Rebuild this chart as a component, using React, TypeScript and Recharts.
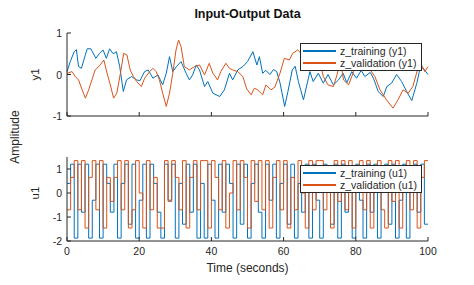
import { LineChart, Line, XAxis, YAxis, Legend } from "recharts";

// y1 output traces (time in seconds, amplitude)
const trainY1Time = [
  0, 0.9, 2.0, 2.6, 3.2, 4.0, 5.0, 5.6, 6.6, 8.0, 9.0, 10.0, 10.9, 11.8, 12.8, 13.7, 14.6, 15.6, 16.5, 17.9,
  19.3, 20.2, 21.5, 22.5, 23.8, 25.2, 26.5, 27.5, 28.4, 29.3, 30.3, 31.6, 33.0, 33.9, 34.8, 35.8, 36.7, 38.1,
  39.0, 40.4, 42.3, 43.6, 45.0, 45.9, 47.3, 48.7, 50.0, 51.5, 52.6, 53.3, 54.2, 55.1, 56.2, 57.2, 58.1, 59.0,
  60.3, 61.2, 62.4, 63.2, 64.1, 65.5, 67.3, 68.2, 69.6, 71.0, 72.3, 73.8, 75.2, 76.5, 77.5, 78.9, 80.2, 81.5,
  82.5, 84.0, 84.9, 86.2, 87.6, 88.6, 89.9, 91.3, 92.7, 94.1, 95.5, 96.9, 97.8, 98.7, 100,
];
const trainY1 = [
  0.07, 0.31, 0.55, 0.6, 0.19, 0.15, 0.45, 0.62, 0.62, 0.39, 0.51, 0.59, 0.39, 0.62, 0.5, 0.55, 0.19, -0.41, -0.13, -0.05,
  -0.13, -0.15, 0.07, 0.11, -0.09, -0.01, -0.25, 0.03, 0.43, 0.07, 0.19, 0.31, 0.03, -0.13, -0.01, 0.23, 0.11, -0.29,
  -0.17, -0.45, -0.53, -0.37, 0.03, -0.13, 0.11, 0.19, 0.31, 0.55, 0.23, 0.43, 0.03, 0.1, 0, 0.12, 0.07, -0.2,
  -0.77, -0.41, 0.11, 0.2, -0.17, -0.61, 0.07, -0.17, 0.03, -0.21, 0, -0.25, -0.13, 0.03, -0.2, 0.07, -0.09, 0.1,
  -0.05, 0.05, -0.09, -0.41, -0.53, -0.29, -0.21, 0, -0.17, -0.41, -0.63, -0.21, 0.15, 0.15, 0,
];

const validY1Time = [
  0, 1.4, 2.3, 3.2, 4.2, 5.1, 6.0, 6.9, 7.8, 9.2, 10.2, 11.1, 12.0, 12.9, 13.8, 14.8, 15.7, 16.6, 17.5, 18.4,
  19.3, 20.6, 21.5, 22.9, 23.8, 24.7, 25.6, 26.5, 27.5, 28.4, 29.3, 30.2, 30.9, 31.6, 32.5, 33.9, 35.3, 36.7,
  38.1, 39.4, 40.4, 41.7, 42.6, 44.0, 45.0, 45.9, 47.3, 48.7, 49.8, 51.0, 51.9, 52.8, 54.2, 55.1, 56.5, 57.6,
  59.0, 60.2, 61.6, 62.5, 63.9, 65.0, 66.5, 68.0, 69.5, 71.0, 72.3, 73.8, 74.8, 75.7, 76.6, 78.0, 79.4, 80.7,
  82.0, 83.0, 84.0, 85.3, 86.7, 88.5, 90.3, 91.7, 93.1, 94.5, 95.8, 97.2, 98.2, 99.1, 100,
];
const validY1 = [
  0.03, 0.07, -0.05, -0.13, -0.37, -0.57, -0.37, -0.13, 0.11, 0.23, 0.35, 0.03, -0.25, -0.57, -0.45, 0.03, 0.51, 0.47, 0.11, -0.05,
  -0.17, -0.29, -0.09, 0.07, 0.15, 0.07, -0.13, -0.45, -0.77, -0.45, 0.03, 0.59, 0.83, 0.67, 0.19, 0.11, 0.19, 0.23,
  -0.01, 0.27, 0.03, -0.13, 0.07, 0.27, 0.15, 0.11, 0.07, -0.05, -0.35, -0.49, -0.33, -0.37, -0.49, -0.25, -0.37, -0.3,
  0.03, 0.39, 0.35, 0.51, 0.59, 0.5, 0.62, 0.45, 0.55, -0.05, -0.25, -0.29, -0.01, 0.35, -0.13, -0.25, 0.07, 0.35,
  0.5, 0.3, 0.11, -0.05, -0.37, -0.61, -0.81, -0.61, -0.37, -0.45, -0.29, 0.15, 0.23, 0.07, 0.19,
];

// u1 input levels, one sample per second (held until the next sample)
const trainU1 = [
  0.4, 1.2, -1.88, 1.2, -0.8, 1.2, -1.88, -0.3, 1.2, -1.88,
  1.2, 0.4, -0.8, 1.2, -1.88, 0.4, 1.2, -1.3, 1.2, -1.88,
  -0.3, 1.2, -1.88, 1.2, 0.4, -0.8, -1.88, 1.2, -0.3, 1.2,
  -1.88, 0.4, -1.3, 1.2, -0.8, 1.2, -1.88, 0.4, -1.88, 1.2,
  -0.3, -1.88, 1.2, -0.8, 1.2, 0.4, -1.88, 1.2, -1.3, 1.2,
  -1.88, 0.4, 1.2, -0.8, -1.88, 1.2, -0.3, 1.2, -1.88, 0.4,
  1.2, -1.3, 1.2, -1.88, 0.4, -0.8, 1.2, -1.88, 1.2, -0.3,
  -1.88, 1.2, 0.4, -1.3, 1.2, -1.88, 1.2, -0.8, 0.4, -1.88,
  1.2, -0.3, -1.88, 1.2, -0.8, 1.2, -1.88, 0.4, 1.2, -1.3,
  1.2, -1.88, -0.3, 1.2, -1.88, 0.4, 1.2, -0.8, 1.2, -1.3,
];
const validU1 = [
  -0.7, 0.65, 1.35, -0.7, 1.35, -1.46, 0.65, 1.35, -0.7, 1.35,
  -1.46, 0.65, -0.35, 0.65, 1.35, -0.7, 1.35, -1.46, -0.7, 1.35,
  0, -1.46, 1.35, -0.7, 0.65, -1.46, -1.46, 1.35, -0.35, 1.35,
  0.65, -0.7, 1.35, -1.46, 0.65, 1.35, -0.7, 1.35, 1.35, -1.46,
  1.35, 0.65, -0.7, 1.35, -1.46, 0, 1.35, -0.7, 1.35, 0.65,
  -1.46, 1.35, -0.35, 1.35, -0.7, 1.35, -1.46, 0.65, 1.35, -0.7,
  1.35, -1.46, 0.65, -0.7, 1.35, 0, -1.46, 1.35, -0.7, 1.35,
  1.35, -0.7, 0.65, -1.46, 1.35, -0.35, 1.35, -0.7, 1.35, -1.46,
  0.65, 1.35, -0.7, 1.35, -1.46, 0.65, 1.35, -0.7, -1.46, 1.35,
  -0.35, 1.35, -1.46, 0.65, 1.35, -0.7, 1.35, -1.46, 0.65, 1.35,
];

const timeTicks = [0, 20, 40, 60, 80, 100];
const y1Ticks = [-1, 0, 1];
const u1Ticks = [-2, -1, 0, 1];

const BLUE = "#0072BD";
const ORANGE = "#D95319";
const INK = "#262626";
const FONT = "'Liberation Sans', Arial, Helvetica, sans-serif";
const TICK_LEN = 4;

const zipTrace = (time: number[], values: number[]) => time.map((t, i) => ({ t, v: values[i] }));
const holdSamples = (values: number[]) => [
  ...values.map((v, i) => ({ t: i, v })),
  { t: values.length, v: values[values.length - 1] },
];

const trainTop = zipTrace(trainY1Time, trainY1);
const validTop = zipTrace(validY1Time, validY1);
const trainBottom = holdSamples(trainU1);
const validBottom = holdSamples(validU1);

// inward-pointing tick marks, MATLAB style
function BottomTick({ x, y, payload, showLabel }: any) {
  return (
    <g>
      <line x1={x} x2={x} y1={y} y2={y - TICK_LEN} stroke={INK} />
      {showLabel && (
        <text x={x} y={y + 14} textAnchor="middle" fontSize={10.5} fill={INK} fontFamily={FONT}>
          {payload.value}
        </text>
      )}
    </g>
  );
}

function TopTick({ x, y }: any) {
  return <line x1={x} x2={x} y1={y} y2={y + TICK_LEN} stroke={INK} />;
}

function LeftTick({ x, y, payload }: any) {
  return (
    <g>
      <line x1={x} x2={x + TICK_LEN} y1={y} y2={y} stroke={INK} />
      <text x={x - 5} y={y + 4} textAnchor="end" fontSize={10.5} fill={INK} fontFamily={FONT}>
        {payload.value}
      </text>
    </g>
  );
}

function RightTick({ x, y }: any) {
  return <line x1={x} x2={x - TICK_LEN} y1={y} y2={y} stroke={INK} />;
}

function SideTitle({ text, cx, cy }: { text: string; cx: number; cy: number }) {
  return (
    <text
      x={cx}
      y={cy}
      transform={`rotate(-90, ${cx}, ${cy})`}
      textAnchor="middle"
      dominantBaseline="central"
      fontSize={11.5}
      fill={INK}
      fontFamily={FONT}
    >
      {text}
    </text>
  );
}

// boxed legend in the upper right of each axes
function BoxLegend({ payload, colors }: any) {
  return (
    <div
      style={{
        border: `1px solid ${INK}`,
        background: "#fff",
        padding: "1px 2px 1px 2px",
        fontFamily: FONT,
        fontSize: 10.5,
        lineHeight: "12px",
        color: INK,
        boxSizing: "border-box",
      }}
    >
      {(payload || []).map((p: any, i: number) => (
        <div key={i} style={{ display: "flex", alignItems: "center", height: 12 }}>
          <div
            style={{
              width: 33,
              height: 2,
              background: colors[i],
              marginRight: 4,
              flex: "none",
            }}
          />
          <span style={{ whiteSpace: "nowrap" }}>{p.value}</span>
        </div>
      ))}
    </div>
  );
}

function Frame({ ticks, domain, showTimeLabels, yLabel }: any) {
  return [
    <XAxis
      key="xb"
      xAxisId="b"
      dataKey="t"
      type="number"
      domain={[0, 100]}
      ticks={timeTicks}
      tickSize={0}
      tickMargin={0}
      tickLine={false}
      axisLine={{ stroke: INK }}
      tick={<BottomTick showLabel={showTimeLabels} />}
      height={showTimeLabels ? 44 : 14}
    />,
    <XAxis
      key="xt"
      xAxisId="t"
      orientation="top"
      dataKey="t"
      type="number"
      domain={[0, 100]}
      ticks={timeTicks}
      tickSize={0}
      tickMargin={0}
      tickLine={false}
      axisLine={{ stroke: INK }}
      tick={<TopTick />}
      height={0}
    />,
    <YAxis
      key="yl"
      yAxisId="l"
      type="number"
      domain={domain}
      ticks={ticks}
      tickSize={0}
      tickMargin={0}
      tickLine={false}
      axisLine={{ stroke: INK }}
      tick={<LeftTick />}
      width={67}
      label={yLabel}
    />,
    <YAxis
      key="yr"
      yAxisId="r"
      orientation="right"
      type="number"
      domain={domain}
      ticks={ticks}
      tickSize={0}
      tickMargin={0}
      tickLine={false}
      axisLine={{ stroke: INK }}
      tick={<RightTick />}
      width={0}
    />,
  ];
}

export default function App() {
  return (
    <div
      style={{
        position: "absolute",
        left: 0,
        top: 0,
        width: 474,
        height: 285,
        background: "#fff",
        fontFamily: FONT,
      }}
    >
      <div
        style={{
          position: "absolute",
          top: 7,
          left: 0,
          width: 495,
          textAlign: "center",
          fontWeight: "bold",
          fontSize: 12.5,
          color: "#111",
        }}
      >
        Input-Output Data
      </div>
      <div
        style={{
          position: "absolute",
          left: 15,
          top: 137,
          transform: "translate(-50%, -50%) rotate(-90deg)",
          fontSize: 12,
          color: INK,
          whiteSpace: "nowrap",
        }}
      >
        Amplitude
      </div>
      <div
        style={{
          position: "absolute",
          top: 261,
          left: 0,
          width: 495,
          textAlign: "center",
          fontSize: 12,
          color: INK,
        }}
      >
        Time (seconds)
      </div>

      <div style={{ position: "absolute", left: 0, top: 0 }}>
        <LineChart width={474} height={130} margin={{ top: 33, right: 46, bottom: 0, left: 0 }}>
          {Frame({
            ticks: y1Ticks,
            domain: [-1, 1],
            showTimeLabels: false,
            yLabel: <SideTitle text="y1" cx={35} cy={74.5} />,
          })}
          <Legend
            layout="vertical"
            align="center"
            verticalAlign="middle"
            content={<BoxLegend colors={[BLUE, ORANGE]} />}
            wrapperStyle={{ left: 300, top: 43, width: 122 }}
          />
          <Line
            xAxisId="b"
            yAxisId="l"
            data={trainTop}
            dataKey="v"
            name="z_training (y1)"
            type="linear"
            stroke={BLUE}
            strokeWidth={1}
            dot={false}
            activeDot={false}
            isAnimationActive={false}
          />
          <Line
            xAxisId="b"
            yAxisId="l"
            data={validTop}
            dataKey="v"
            name="z_validation (y1)"
            type="linear"
            stroke={ORANGE}
            strokeWidth={1}
            dot={false}
            activeDot={false}
            isAnimationActive={false}
          />
        </LineChart>
      </div>

      <div style={{ position: "absolute", left: 0, top: 130 }}>
        <LineChart width={474} height={155} margin={{ top: 27, right: 46, bottom: 0, left: 0 }}>
          {Frame({
            ticks: u1Ticks,
            domain: [-2, 1.5],
            showTimeLabels: true,
            yLabel: <SideTitle text="u1" cx={35} cy={63} />,
          })}
          <Legend
            layout="vertical"
            align="center"
            verticalAlign="middle"
            content={<BoxLegend colors={[BLUE, ORANGE]} />}
            wrapperStyle={{ left: 300, top: 35, width: 122 }}
          />
          <Line
            xAxisId="b"
            yAxisId="l"
            data={trainBottom}
            dataKey="v"
            name="z_training (u1)"
            type="stepAfter"
            stroke={BLUE}
            strokeWidth={1}
            dot={false}
            activeDot={false}
            isAnimationActive={false}
          />
          <Line
            xAxisId="b"
            yAxisId="l"
            data={validBottom}
            dataKey="v"
            name="z_validation (u1)"
            type="stepAfter"
            stroke={ORANGE}
            strokeWidth={1}
            dot={false}
            activeDot={false}
            isAnimationActive={false}
          />
        </LineChart>
      </div>
    </div>
  );
}
